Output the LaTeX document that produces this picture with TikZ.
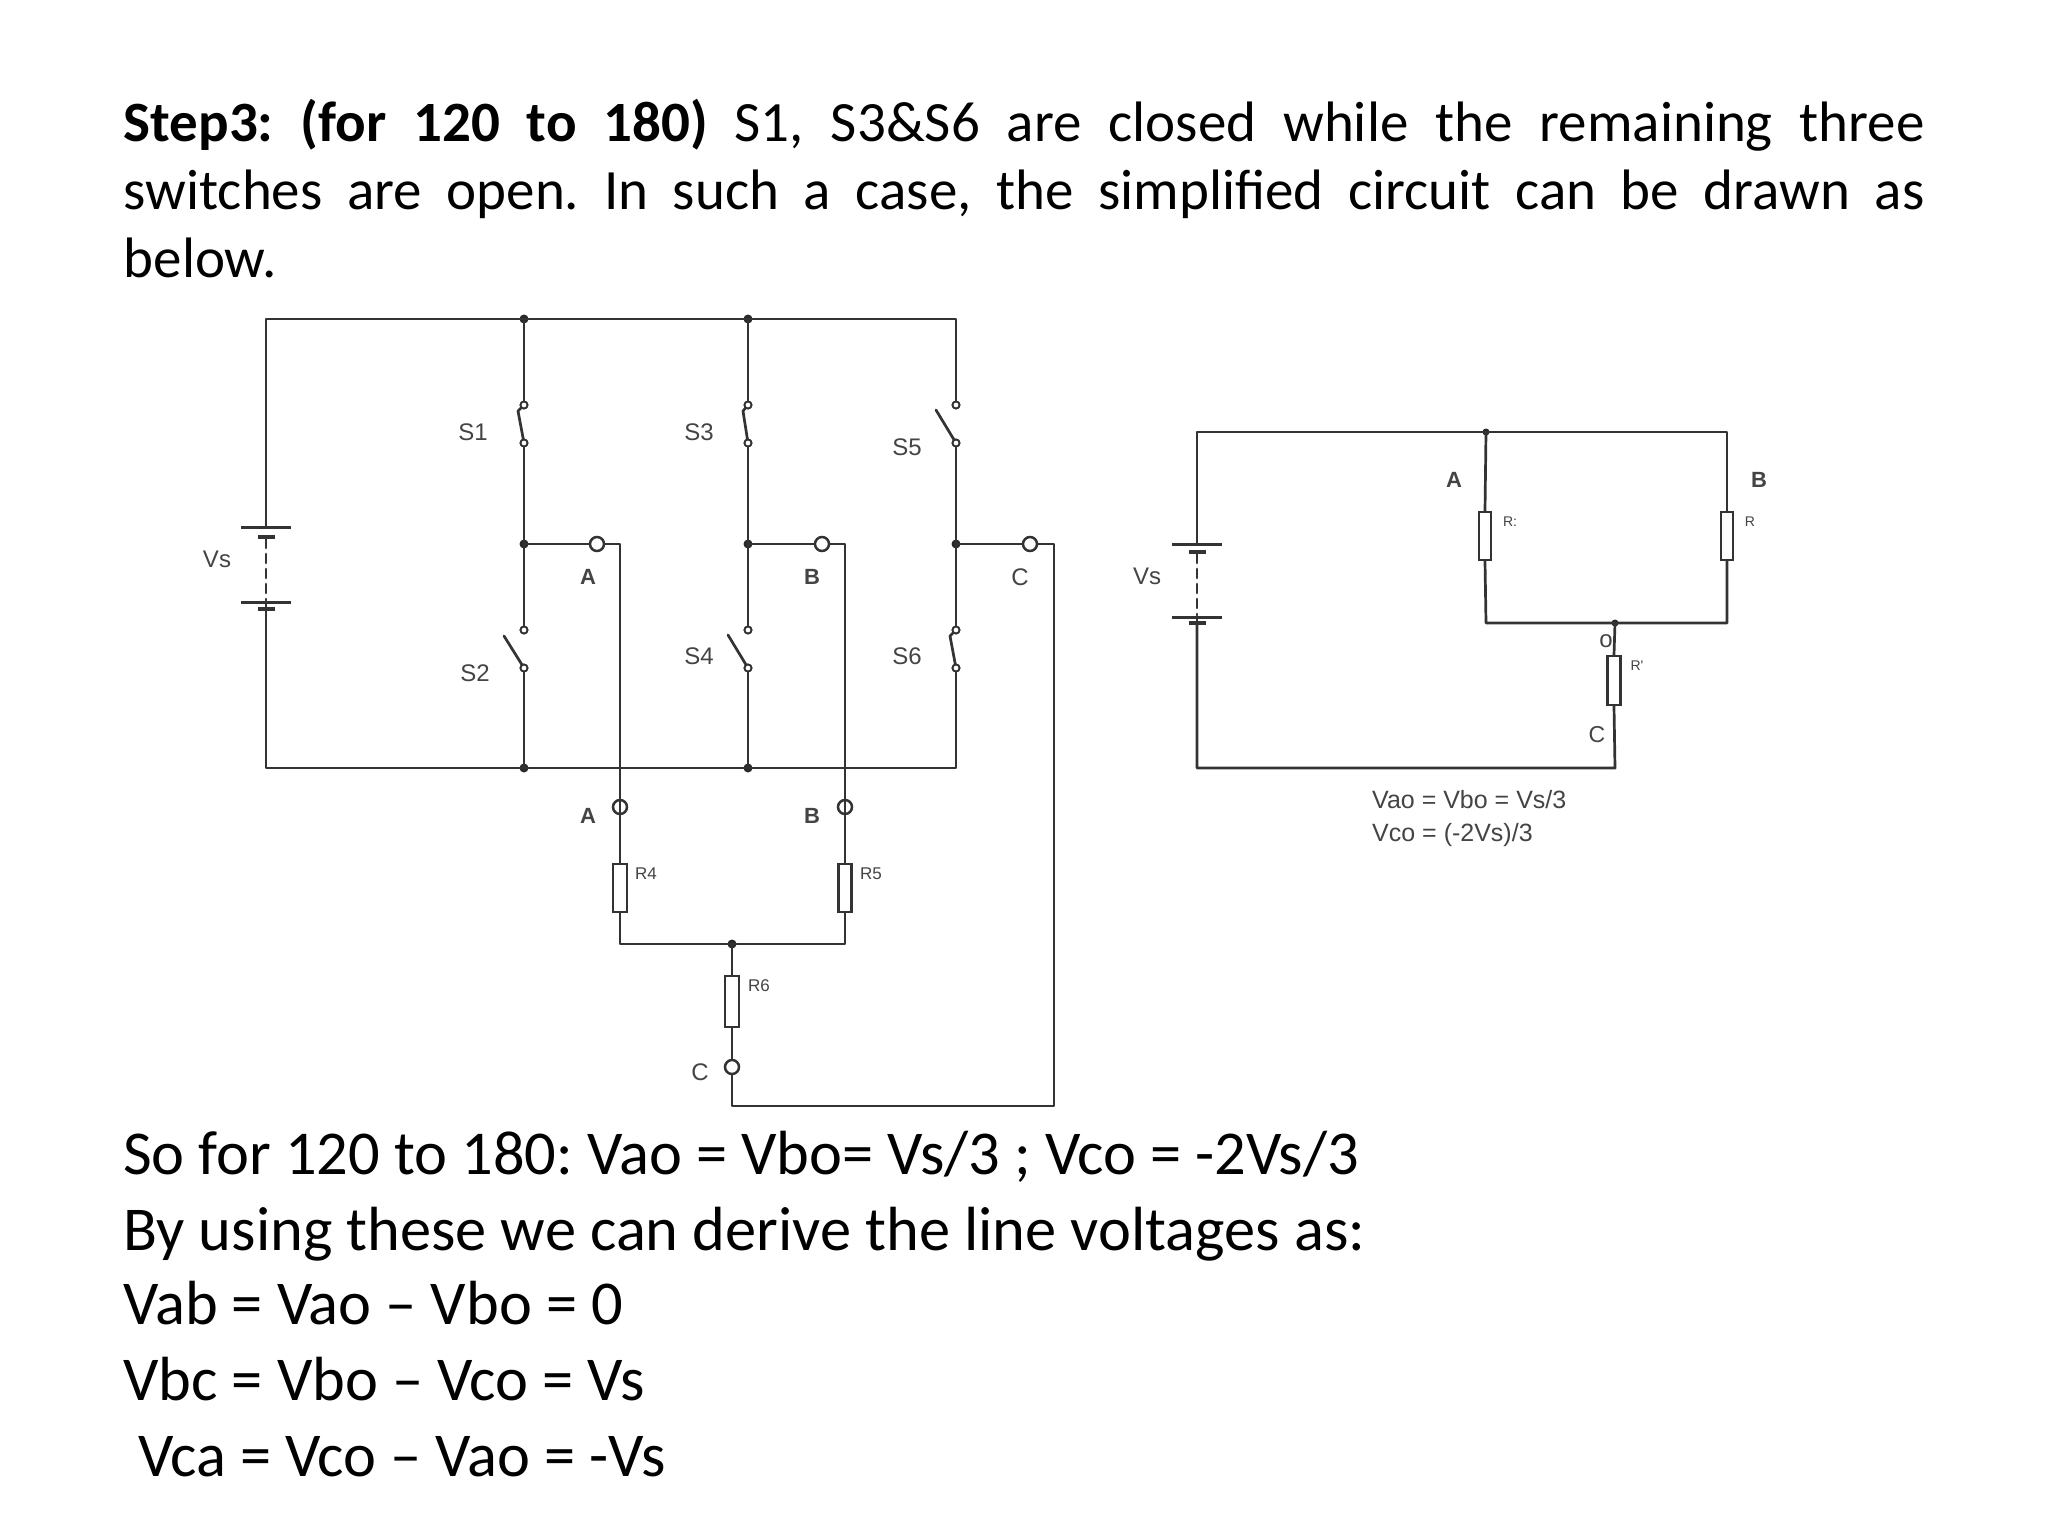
\documentclass[tikz,border=0pt]{standalone}
\usepackage{fontspec}
\setmainfont{Carlito}
\newfontfamily\diagfont{Liberation Sans}
\definecolor{wire}{HTML}{333333}
\definecolor{lab}{HTML}{444444}
\tikzset{
  wire/.style={draw=wire,line width=2.7pt,line cap=round,line join=round},
  dot/.style={circle,fill=wire!80!black,inner sep=0pt,minimum size=9pt},
  contact/.style={circle,draw=wire,fill=white,line width=1.8pt,inner sep=0pt,minimum size=7pt},
  term/.style={circle,draw=wire,fill=white,line width=2.5pt,inner sep=0pt,minimum size=14pt},
  termopen/.style={circle,draw=wire,line width=2.5pt,inner sep=0pt,minimum size=14pt},
  res/.style={rectangle,draw=wire,fill=white,line width=2.5pt,inner sep=0pt},
  plate/.style={rectangle,fill=wire,inner sep=0pt,minimum height=3pt,minimum width=50pt},
  splate/.style={rectangle,fill=wire,inner sep=0pt,minimum height=3.5pt,minimum width=17pt},
  big/.style={font=\diagfont\bfseries\fontsize{22}{26}\selectfont,text=lab,inner sep=0pt},
  mid/.style={font=\diagfont\fontsize{24}{28}\selectfont,text=lab,inner sep=0pt},
  tiny/.style={font=\diagfont\fontsize{17}{20}\selectfont,text=lab,inner sep=0pt},
  eq/.style={font=\diagfont\fontsize{25}{28}\selectfont,text=lab,inner sep=0pt,anchor=base west},
  body/.style={font=\fontsize{62.4}{74}\selectfont\frenchspacing,inner sep=0pt,anchor=base west},
}
\begin{document}
\begin{tikzpicture}[x=1pt,y=-1pt]
\useasboundingbox[fill=white] (0,0) rectangle (2048,1536);

% heading
\node[font=\fontsize{57}{68}\selectfont,inner sep=0pt,anchor=base west,text width=1801pt,align=justify] (head) at (123.5,142)
  {\frenchspacing\textbf{Step3: (for 120 to 180)} S1, S3\&S6 are closed while the remaining three\linebreak switches are open. In such a case, the simplified circuit can be drawn as\linebreak below.};

% ---------- left circuit: corners
\coordinate (tl) at (266,319);
\coordinate (bl) at (266,768);
\coordinate (tr) at (956,319);
\coordinate (br) at (956,768);
\node[dot] (t1) at (524,319) {};
\node[dot] (t3) at (748,319) {};
\node[dot] (b1) at (524,768) {};
\node[dot] (b3) at (748,768) {};
\node[dot] (m1) at (524,544) {};
\node[dot] (m3) at (748,544) {};
\node[dot] (m5) at (956,544) {};
% contacts
\node[contact] (s1t) at (524,405) {};
\node[contact] (s1b) at (524,443) {};
\node[contact] (s2t) at (524,630) {};
\node[contact] (s2b) at (524,668) {};
\node[contact] (s3t) at (748,405) {};
\node[contact] (s3b) at (748,443) {};
\node[contact] (s4t) at (748,630) {};
\node[contact] (s4b) at (748,668) {};
\node[contact] (s5t) at (956,405) {};
\node[contact] (s5b) at (956,443) {};
\node[contact] (s6t) at (956,630) {};
\node[contact] (s6b) at (956,668) {};
% battery
\node[plate] (p1) at (266,527) {};
\node[splate] (q1) at (266,537) {};
\node[plate] (p2) at (266,602) {};
\node[splate] (q2) at (266,609) {};
% wires
\draw[wire] (b1.center) -- (bl) -- (q2.center);
\draw[wire] (p1.center) -- (tl) -- (t1.center) -- (t3.center) -- (tr) -- (s5t.north);
\draw[wire] (b1.center) -- (b3.center) -- (br) -- (s6b.south);
\draw[wire,dashed,dash pattern=on 9pt off 6pt] (q1.south) -- (p2.north);
\draw[wire] (p2.center) -- (q2.center);
\draw[wire] (t1.center) -- (s1t.north);
\draw[wire] (s1b.south) -- (m1.center) -- (s2t.north);
\draw[wire] (s2b.south) -- (b1.center);
\draw[wire] (t3.center) -- (s3t.north);
\draw[wire] (s3b.south) -- (m3.center) -- (s4t.north);
\draw[wire] (s4b.south) -- (b3.center);
\draw[wire] (s5b.south) -- (m5.center) -- (s6t.north);
% switch arms
\draw[wire] (s1t.center) -- ++(-6,6) -- (s1b.center);
\draw[wire] (s3t.center) -- ++(-5,6) -- (s3b.center);
\draw[wire] (s6t.center) -- ++(-6,6) -- (s6b.center);
\draw[wire] (s2b.center) -- ++(-20,-32);
\draw[wire] (s4b.center) -- ++(-20,-33);
\draw[wire] (s5b.center) -- ++(-20,-33);
\node[contact] at (s1t) {};\node[contact] at (s1b) {};\node[contact] at (s2t) {};\node[contact] at (s2b) {};
\node[contact] at (s3t) {};\node[contact] at (s3b) {};\node[contact] at (s4t) {};\node[contact] at (s4b) {};
\node[contact] at (s5t) {};\node[contact] at (s5b) {};\node[contact] at (s6t) {};\node[contact] at (s6b) {};
% outputs
\node[term] (ta) at (597,544) {};
\node[term] (tb) at (822,544) {};
\node[term] (tc) at (1030,544) {};
\coordinate (ca) at (620,544);
\coordinate (cb) at (845,544);
\coordinate (cc) at (1054,544);
\node[termopen] (la) at (620,807) {};
\node[termopen] (lb) at (845,807) {};
\node[res,minimum width=14pt,minimum height=48pt] (r4) at (620,888) {};
\node[res,minimum width=13pt,minimum height=48pt] (r5) at (845,888) {};
\node[dot] (star) at (732,944) {};
\coordinate (sa) at (620,944);
\coordinate (sb) at (845,944);
\node[res,minimum width=14pt,minimum height=51pt] (r6) at (732,1001.5) {};
\node[term] (lc) at (732,1067) {};
\coordinate (cbl) at (732,1106);
\coordinate (cbr) at (1054,1106);
\draw[wire] (m1.center) -- (ta.west);
\draw[wire] (ta.east) -- (ca) -- (r4.north);
\draw[wire] (m3.center) -- (tb.west);
\draw[wire] (tb.east) -- (cb) -- (r5.north);
\draw[wire] (m5.center) -- (tc.west);
\draw[wire] (tc.east) -- (cc) -- (cbr) -- (cbl) -- (lc.south);
\draw[wire] (r4.south) -- (sa) -- (star.center) -- (sb) -- (r5.south);
\draw[wire] (star.center) -- (r6.north);
\draw[wire] (r6.south) -- (lc.north);
% labels left
\node[mid] (ls1) at (473,432) {S1};
\node[mid] (ls2) at (475,673) {S2};
\node[mid] (ls3) at (699,432) {S3};
\node[mid] (ls4) at (699,656) {S4};
\node[mid] (ls5) at (907,447) {S5};
\node[mid] (ls6) at (907,656) {S6};
\node[mid] (lvs) at (217,559) {Vs};
\node[big] (lA) at (588,577) {A};
\node[big] (lB) at (812,577) {B};
\node[big,font=\diagfont\fontsize{24}{26}\selectfont] (lC) at (1020,577) {C};
\node[big] (lA2) at (588,816) {A};
\node[big] (lB2) at (812,816) {B};
\node[big,font=\diagfont\fontsize{24}{26}\selectfont] (lC2) at (700,1072) {C};
\node[tiny] (lr4) at (646,874) {R4};
\node[tiny] (lr5) at (871,874) {R5};
\node[tiny] (lr6) at (759,986) {R6};

% ---------- right circuit
\coordinate (atl) at (1197,432);
\coordinate (abl) at (1197,768);
\coordinate (atr) at (1727,432);
\coordinate (amr) at (1727,623);
\coordinate (aml) at (1486,623);
\coordinate (abr) at (1615,768);
\node[dot,minimum size=7pt] (ja) at (1486,432) {};
\node[dot,minimum size=7pt] (jo) at (1615,623) {};
\node[res,minimum width=12pt,minimum height=48pt] (ra) at (1485,536) {};
\node[res,minimum width=12pt,minimum height=48pt] (rb) at (1727,536) {};
\node[res,minimum width=13pt,minimum height=49pt] (rc) at (1614,680.5) {};
\node[plate] (ap1) at (1197,544) {};
\node[splate] (aq1) at (1197,552) {};
\node[plate] (ap2) at (1197,617) {};
\node[splate] (aq2) at (1197,623) {};
\draw[wire] (ap1.center) -- (atl) -- (ja.center) -- (atr) -- (rb.north);
\draw[wire] (ja.center) -- (ra.north);
\draw[wire] (ra.south) -- (aml) -- (jo.center) -- (amr) -- (rb.south);
\draw[wire] (jo.center) -- (rc.north);
\draw[wire] (rc.south) -- (abr) -- (abl) -- (aq2.center);
\draw[wire] (ap2.center) -- (aq2.center);
\draw[wire,dashed,dash pattern=on 9pt off 6pt] (aq1.south) -- (ap2.north);
\node[mid] (avs) at (1147,576) {Vs};
\node[big] (aA) at (1454,480) {A};
\node[big] (aB) at (1759,480) {B};
\node[tiny,font=\diagfont\fontsize{14}{16}\selectfont] (aR1) at (1510,522) {R:};
\node[tiny,font=\diagfont\fontsize{14}{16}\selectfont] (aR2) at (1750,522) {R};
\node[tiny,font=\diagfont\fontsize{14}{16}\selectfont] (aR3) at (1637,666) {R'};
\node[big,font=\diagfont\fontsize{24}{26}\selectfont] (ao) at (1606,641) {o};
\node[big,font=\diagfont\fontsize{23}{26}\selectfont] (aC) at (1597,735) {C};
\node[eq] (eq1) at (1372,808) {Vao = Vbo = Vs/3};
\node[eq] (eq2) at (1372,841) {Vco = (-2Vs)/3};

% ---------- bottom text
\node[body] (t1l) at (123,1174) {So for 120 to 180: Vao = Vbo= Vs/3 ; Vco = -2Vs/3};
\node[body] (t2l) at (123,1250) {By using these we can derive the line voltages as:};
\node[body] (t3l) at (123,1324) {Vab = Vao – Vbo = 0};
\node[body] (t4l) at (123,1400) {Vbc = Vbo – Vco = Vs};
\node[body] (t5l) at (138,1476) {Vca = Vco – Vao = -Vs};
\end{tikzpicture}
\end{document}
